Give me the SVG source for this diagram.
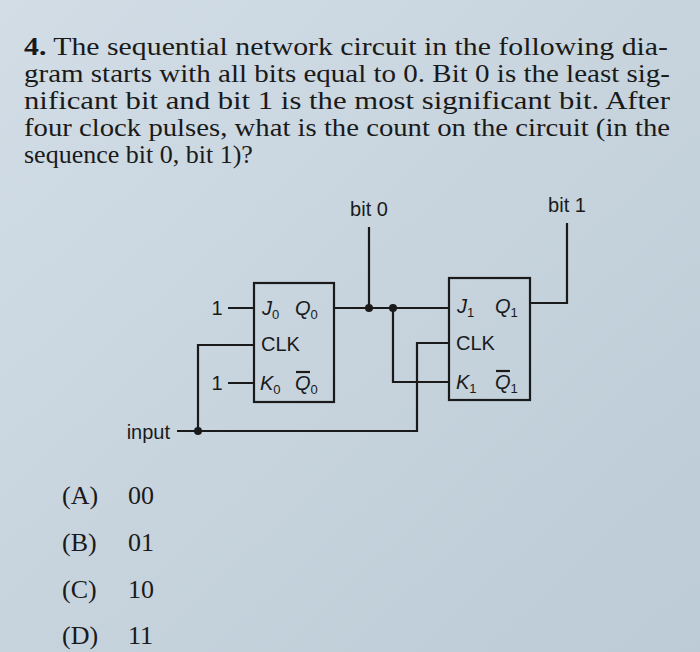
<svg xmlns="http://www.w3.org/2000/svg" width="700" height="652" viewBox="0 0 700 652">
<style>
.t{font-family:"Liberation Serif",serif;font-size:26px;fill:#1a1a1a}
.s{font-family:"Liberation Sans",sans-serif;font-size:20px;fill:#1a1a1a}
.w{fill:none;stroke:#1a1a1a;stroke-width:2.2}
.d{fill:#1a1a1a}
</style>
<defs><linearGradient id="bg" x1="0" y1="0" x2="1" y2="1"><stop offset="0" stop-color="#d2dde6"/><stop offset="1" stop-color="#bccbd6"/></linearGradient></defs>
<rect width="700" height="652" fill="url(#bg)"/>
<g id="question">
<text class="t" x="24" y="55" textLength="644" lengthAdjust="spacingAndGlyphs"><tspan font-weight="bold">4.</tspan> The sequential network circuit in the following dia-</text>
<text class="t" x="24" y="82" textLength="646" lengthAdjust="spacingAndGlyphs">gram starts with all bits equal to 0. Bit 0 is the least sig-</text>
<text class="t" x="24" y="109" textLength="646" lengthAdjust="spacingAndGlyphs">nificant bit and bit 1 is the most significant bit. After</text>
<text class="t" x="24" y="136" textLength="646" lengthAdjust="spacingAndGlyphs">four clock pulses, what is the count on the circuit (in the</text>
<text class="t" x="24" y="163">sequence bit 0, bit 1)?</text>
</g>
<g id="ff0">
<rect class="w" x="254" y="283" width="80" height="119"/>
<text class="s" x="262" y="315" font-style="italic">J<tspan font-size="13" dy="4" font-style="normal">0</tspan></text>
<text class="s" x="295" y="315" font-style="italic">Q<tspan font-size="13" dy="4" font-style="normal">0</tspan></text>
<text class="s" x="261" y="351">CLK</text>
<text class="s" x="260" y="390" font-style="italic">K<tspan font-size="13" dy="4" font-style="normal">0</tspan></text>
<text class="s" x="295" y="390" font-style="italic">Q<tspan font-size="13" dy="4" font-style="normal">0</tspan></text>
<line class="w" x1="296" y1="372" x2="310" y2="372" stroke-width="1.6"/>
</g>
<g id="ff1">
<rect class="w" x="449" y="278" width="81" height="122"/>
<text class="s" x="457" y="313" font-style="italic">J<tspan font-size="13" dy="4" font-style="normal">1</tspan></text>
<text class="s" x="495" y="313" font-style="italic">Q<tspan font-size="13" dy="4" font-style="normal">1</tspan></text>
<text class="s" x="456" y="350">CLK</text>
<text class="s" x="456" y="389" font-style="italic">K<tspan font-size="13" dy="4" font-style="normal">1</tspan></text>
<text class="s" x="495" y="389" font-style="italic">Q<tspan font-size="13" dy="4" font-style="normal">1</tspan></text>
<line class="w" x1="496" y1="371" x2="510" y2="371" stroke-width="1.6"/>
</g>
<g id="labels">
<text class="s" x="217" y="315" text-anchor="middle">1</text>
<text class="s" x="217" y="390" text-anchor="middle">1</text>
<text class="s" x="369" y="216" text-anchor="middle">bit 0</text>
<text class="s" x="567" y="212" text-anchor="middle">bit 1</text>
<text class="s" x="170" y="439" text-anchor="end">input</text>
</g>
<g id="connectors">
<path class="w" d="M228 308H254M228 383H254"/>
<path class="w" d="M334 308H449M369 227V308M393 308V382H449"/>
<path class="w" d="M177 431H417V343H449M198 431V345H254"/>
<path class="w" d="M530 303H567V223"/>
<circle class="d" cx="369" cy="308" r="4"/>
<circle class="d" cx="393" cy="308" r="4"/>
<circle class="d" cx="198" cy="431" r="4"/>
</g>
<g id="answers">
<text class="t" x="62" y="504">(A)</text><text class="t" x="128" y="504">00</text>
<text class="t" x="62" y="551">(B)</text><text class="t" x="128" y="551">01</text>
<text class="t" x="62" y="598">(C)</text><text class="t" x="128" y="598">10</text>
<text class="t" x="62" y="644">(D)</text><text class="t" x="128" y="644">11</text>
</g>
</svg>
